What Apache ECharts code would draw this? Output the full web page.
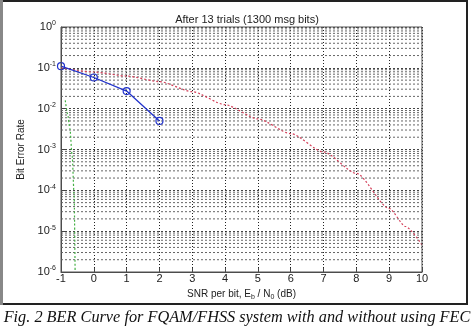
<!DOCTYPE html>
<html>
<head>
<meta charset="utf-8">
<script src="https://cdn.jsdelivr.net/npm/echarts@6/dist/echarts.min.js"></script>
<style>
  html, body { margin: 0; padding: 0; background: #fff; }
  #chart { width: 474px; height: 328px; }
</style>
</head>
<body>
<div id="chart"></div>
<script>
// Simulated BER after 13 trials (Eb/N0 in dB, bit error rate)
const simSnr = [-1, 0, 1, 2];
const simBer = [0.11, 0.058, 0.027, 0.005];

// Uncoded theoretical curve
const uncodedSnr = [-1, 0, 1, 2, 3, 4, 5, 6, 7, 8, 9, 9.5, 10];
const uncodedBer = [0.1, 0.079, 0.063, 0.046, 0.026, 0.0125, 0.0056, 0.00245, 0.00087, 0.00026, 0.000036, 0.000013, 0.0000046];

// Coded theoretical curve (steep waterfall)
const codedSnr = [-0.87, -0.8, -0.73, -0.66, -0.6, -0.57];
const codedBer = [0.016, 0.0075, 0.0033, 0.0007, 0.000076, 0.000001];

const xTicks = [-1, 0, 1, 2, 3, 4, 5, 6, 7, 8, 9, 10];
const yDecades = [0, -1, -2, -3, -4, -5, -6];

// minor log grid: 2..9 times each decade
const minorGrid = [];
for (let d = -6; d < 0; d++) {
  for (let m = 2; m <= 9; m++) minorGrid.push(m * Math.pow(10, d));
}

const chart = echarts.init(document.getElementById('chart'), null, { renderer: 'canvas' });
const labelFont = 'Liberation Sans, Arial, sans-serif';

// each minor grid line is a flat two-point series spanning the x range
const gridSeries = minorGrid.map(v => ({
  type: 'line', silent: true, symbol: 'none', z: 1,
  data: [[xTicks[0], v], [xTicks[xTicks.length - 1], v]],
  lineStyle: { color: '#666', type: [2, 2], width: 1 }
}));

chart.setOption({
  animation: false,
  backgroundColor: '#fff',
  title: {
    text: 'After 13 trials (1300 msg bits)',
    left: 242, top: 9, textAlign: 'center',
    textStyle: { fontSize: 11, fontWeight: 'normal', color: '#222', fontFamily: labelFont }
  },
  grid: { left: 61, right: 52, top: 27, bottom: 56 },
  xAxis: {
    type: 'value', min: -1, max: 10, interval: 1,
    name: '{t|SNR per bit, E}{s|b}{t| / N}{s|0}{t| (dB)}',
    nameLocation: 'middle', nameGap: 13,
    nameTextStyle: {
      rich: {
        t: { fontSize: 10, color: '#222', fontFamily: labelFont },
        s: { fontSize: 7, color: '#222', fontFamily: labelFont, padding: [6, 0, 0, 0] }
      }
    },
    axisLine: { show: true, onZero: false, lineStyle: { color: '#444', width: 1 } },
    axisTick: { show: true, inside: true, length: 4, lineStyle: { color: '#444' } },
    axisLabel: { fontSize: 11, color: '#222', margin: 1, fontFamily: labelFont },
    splitLine: { show: true, lineStyle: { color: '#222', type: [1, 2], width: 1 } }
  },
  yAxis: {
    type: 'log', logBase: 10, min: 1e-6, max: 1,
    name: 'Bit Error Rate', nameLocation: 'middle', nameGap: 26, nameRotate: 90,
    nameTextStyle: { fontSize: 10, color: '#222', fontFamily: labelFont },
    axisLine: { show: true, onZero: false, lineStyle: { color: '#444', width: 1 } },
    axisTick: { show: true, inside: true, length: 4, lineStyle: { color: '#444' } },
    axisLabel: {
      margin: 5, fontFamily: labelFont,
      formatter: function (v) {
        const e = Math.round(Math.log10(v));
        return '{b|10}{e|' + e + '}';
      },
      rich: {
        b: { fontSize: 11, color: '#222', fontFamily: labelFont },
        e: { fontSize: 7, color: '#222', fontFamily: labelFont, padding: [0, 0, 7, 0] }
      }
    },
    splitLine: { show: true, lineStyle: { color: '#444', type: [2, 2], width: 1 } }
  },
  series: gridSeries.concat([
    {
      name: 'uncoded', type: 'line', smooth: 0.25, smoothMonotone: 'x', symbol: 'none', z: 3,
      data: uncodedSnr.map((x, i) => [x, uncodedBer[i]]),
      lineStyle: { color: '#d4405a', width: 1.2, type: [2, 2] }
    },
    {
      name: 'coded', type: 'line', smooth: 0.25, smoothMonotone: 'x', symbol: 'none', z: 3,
      data: codedSnr.map((x, i) => [x, codedBer[i]]),
      lineStyle: { color: '#44b044', width: 1.2, type: [2, 2] }
    },
    {
      name: 'simulated', type: 'line', symbol: 'circle', symbolSize: 7, z: 4,
      showSymbol: true,
      data: simSnr.map((x, i) => [x, simBer[i]]),
      lineStyle: { color: '#2233cc', width: 1.3 },
      itemStyle: { color: 'rgba(0,0,0,0)', borderColor: '#2233cc', borderWidth: 1.2 }
    }
  ]),
  graphic: [
    {
      type: 'rect', silent: true,
      shape: { x: 1, y: 1, width: 466, height: 303 },
      style: { fill: 'none', stroke: '#222', lineWidth: 2 },
      z: 10
    },
    {
      type: 'rect', silent: true,
      shape: { x: 0, y: 0, width: 3, height: 305 },
      style: { fill: '#888' },
      z: 11
    },
    {
      type: 'rect', silent: true,
      shape: { x: 61, y: 27, width: 361, height: 245 },
      style: { fill: 'none', stroke: '#555', lineWidth: 1 },
      z: 10
    },
    {
      type: 'text', silent: true, x: 237, y: 318,
      style: {
        text: 'Fig. 2 BER Curve for FQAM/FHSS system with and without using FEC',
        font: 'italic 16.3px "Liberation Serif", "Times New Roman", serif',
        fill: '#111', textAlign: 'center', textVerticalAlign: 'middle'
      }
    }
  ]
});
</script>
</body>
</html>
